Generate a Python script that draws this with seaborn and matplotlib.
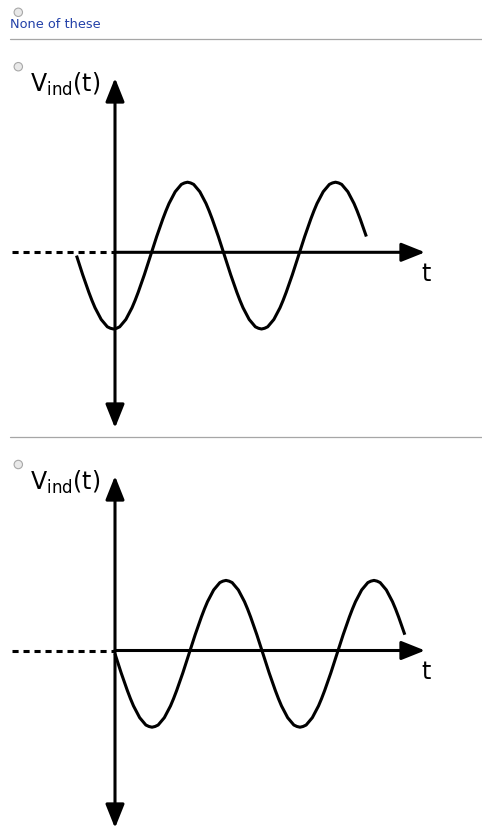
import matplotlib.pyplot as plt
import numpy as np
import pandas as pd
import seaborn as sns
from matplotlib.patches import Circle

# induced voltage, in amplitude units,
# one value every 1/48 of a period (same shape in both panels)
one_period = [0.0, -0.13, -0.26, -0.38, -0.5, -0.61, -0.71, -0.79, -0.87, -0.92, -0.97, -0.99,
              -1.0, -0.99, -0.97, -0.92, -0.87, -0.79, -0.71, -0.61, -0.5, -0.38, -0.26, -0.13,
              0.0, 0.13, 0.26, 0.38, 0.5, 0.61, 0.71, 0.79, 0.87, 0.92, 0.97, 0.99,
              1.0, 0.99, 0.97, 0.92, 0.87, 0.79, 0.71, 0.61, 0.5, 0.38, 0.26, 0.13]
wave_v = (one_period * 2)[:95]
samples_per_period = 48
# time (in periods) where each drawn curve begins, and the curve's resting level
panel_start = [-0.26, 0.0]
panel_level = [-0.045, -0.045]

option_text = "None of these"
y_label = r"$\mathregular{V_{ind}(t)}$"
x_label = "t"

W, H = 482, 836
PX_T, PX_V = 148.0, 73.4      # pixels per period / per amplitude unit
ORIGIN_X = 115.0
panels = [  # box top, box bottom, origin y, arrow top tip, arrow bottom tip (pixels)
    dict(top=40, bottom=436, oy=252.3, tip_top=78, tip_bot=428),
    dict(top=438, bottom=836, oy=650.5, tip_top=476, tip_bot=828),
]

sns.set_style("white")
plt.rcParams['font.family'] = ['DejaVu Sans']

fig = plt.figure(figsize=(W / 100, H / 100), dpi=100)

# page background: radio buttons, separators, option text
bg = fig.add_axes([0, 0, 1, 1])
bg.set_xlim(0, W)
bg.set_ylim(H, 0)
bg.axis('off')
for cy in [12.3, 66.7, 464.5]:
    bg.add_patch(Circle((18.3, cy), 4.2, facecolor='#e9e9e9', edgecolor='#a8a8a8', lw=0.8))
for sy in [38.5, 437.0]:
    bg.plot([10, W], [sy, sy], color='#a6a6a6', lw=0.9)
bg.text(10, 24.5, option_text, color='#2240a8', fontsize=9.3, va='center', ha='left')

arrow_h = dict(arrowstyle='-|>,head_length=0.4,head_width=0.16', color='black',
               lw=2.2, mutation_scale=36, shrinkA=0, shrinkB=0)
arrow_v = dict(arrowstyle='<|-|>,head_length=0.4,head_width=0.16', color='black',
               lw=2.2, mutation_scale=36, shrinkA=0, shrinkB=0)

for p, t0, lvl in zip(panels, panel_start, panel_level):
    ax = fig.add_axes([0, 1 - p['bottom'] / H, 1, (p['bottom'] - p['top']) / H])
    ax.patch.set_alpha(0)
    ax.set_xlim(-ORIGIN_X / PX_T, (W - ORIGIN_X) / PX_T)
    ax.set_ylim((p['oy'] - p['bottom']) / PX_V, (p['oy'] - p['top']) / PX_V)
    ax.axis('off')

    df = pd.DataFrame({'t': t0 + np.arange(len(wave_v)) / samples_per_period,
                       'v': np.array(wave_v) + lvl})
    sns.lineplot(data=df, x='t', y='v', ax=ax, color='black', lw=2.2,
                 sort=False, solid_capstyle='butt')

    # axes of the sketch
    ax.plot([(11.7 - ORIGIN_X) / PX_T, -0.01], [0, 0], color='black', lw=2.2,
            ls=(0, (2.0, 1.6)), dash_capstyle='butt')
    ax.annotate('', xy=((425 - ORIGIN_X) / PX_T, 0), xytext=(0, 0), arrowprops=arrow_h)
    ax.annotate('', xy=(0, (p['oy'] - p['tip_top']) / PX_V),
                xytext=(0, (p['oy'] - p['tip_bot']) / PX_V), arrowprops=arrow_v)

    # labels, placed relative to the origin (pixels: 't' 21 below, V 160 above)
    ax.text((426 - ORIGIN_X) / PX_T, -21.7 / PX_V, x_label, color='black',
            fontsize=17, ha='center', va='center')
    ax.text((30 - ORIGIN_X) / PX_T, 160.3 / PX_V, y_label, color='black',
            fontsize=17, ha='left', va='baseline')

fig.savefig('out.png', dpi=100)
